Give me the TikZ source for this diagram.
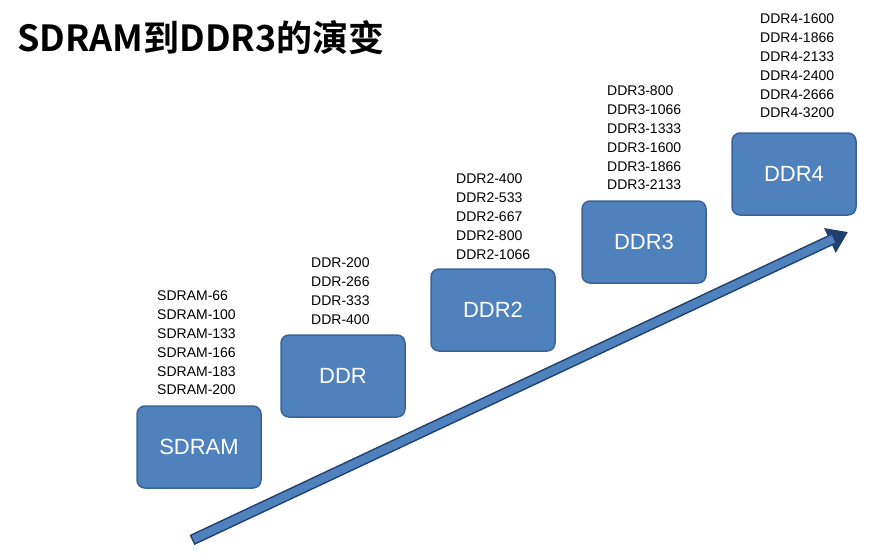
\documentclass[tikz,border=0pt]{standalone}
\usepackage{fontspec}
\setmainfont{Liberation Sans}
\newfontfamily\cjk{Noto Sans CJK SC}[BoldFont={Noto Sans CJK SC Bold}]
\usetikzlibrary{arrows.meta}
\definecolor{boxblue}{HTML}{4F81BD}
\definecolor{boxedge}{HTML}{3A6396}
\definecolor{arrowdark}{HTML}{1F3F6E}
\tikzset{
  gen/.style={draw=boxedge, line width=1.5pt, fill=boxblue, rounded corners=8pt,
    minimum width=124pt, minimum height=82pt, text=white, font=\fontsize{22}{22}\selectfont},
  speeds/.style={align=left, anchor=north west, inner sep=0pt, font=\fontsize{14}{18.8}\selectfont},
}
\begin{document}
\begin{tikzpicture}[x=1pt,y=-1pt]
\useasboundingbox (0,0) rectangle (877,554);
\node[anchor=west, inner sep=0pt, font=\cjk\bfseries\fontsize{36}{36}\selectfont] (title) at (17,38) {SDRAM到DDR3的演变};
\coordinate (a0) at (192,540);
\coordinate (a1) at (848,232);
\draw[line width=11pt, draw=arrowdark, -{Triangle[length=20pt,width=26pt]}] (a0) -- (a1);
\draw[line width=8pt, draw=boxblue, shorten >=16pt, shorten <=1.5pt] (a0) -- (a1);
\node[gen] (sdram) at (199,447) {SDRAM};
\node[gen] (ddr) at (343,376) {DDR};
\node[gen] (ddr2) at (493,310) {DDR2};
\node[gen] (ddr3) at (644,242) {DDR3};
\node[gen] (ddr4) at (794,174) {DDR4};
\node[speeds] (s1) at (157,291) {SDRAM-66\\SDRAM-100\\SDRAM-133\\SDRAM-166\\SDRAM-183\\SDRAM-200};
\node[speeds] (s2) at (311,258) {DDR-200\\DDR-266\\DDR-333\\DDR-400};
\node[speeds] (s3) at (456,174) {DDR2-400\\DDR2-533\\DDR2-667\\DDR2-800\\DDR2-1066};
\node[speeds] (s4) at (607,86) {DDR3-800\\DDR3-1066\\DDR3-1333\\DDR3-1600\\DDR3-1866\\DDR3-2133};
\node[speeds] (s5) at (760,14) {DDR4-1600\\DDR4-1866\\DDR4-2133\\DDR4-2400\\DDR4-2666\\DDR4-3200};
\end{tikzpicture}
\end{document}
